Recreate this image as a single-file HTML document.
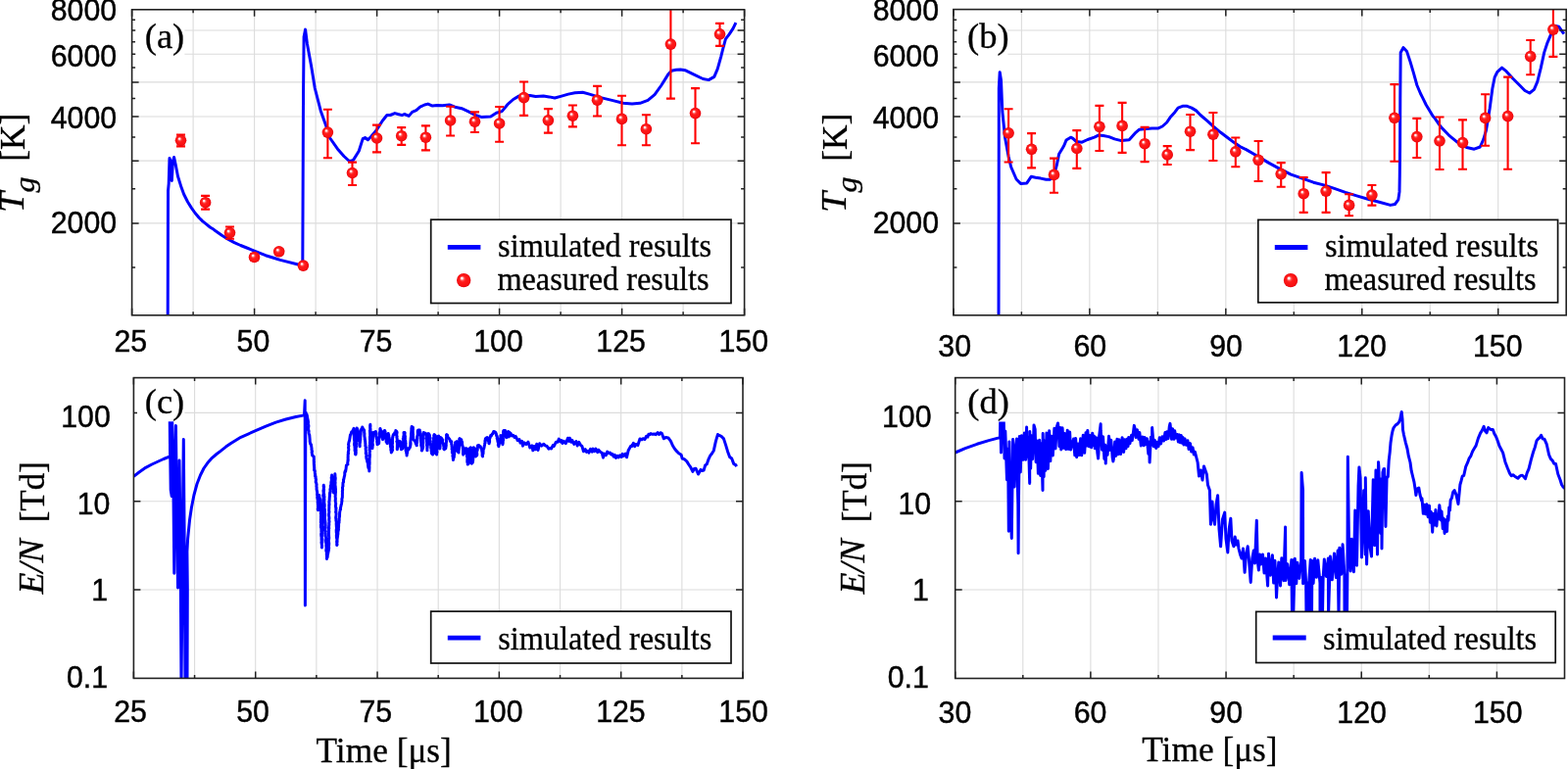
<!DOCTYPE html><html><head><meta charset="utf-8"><style>html,body{margin:0;padding:0;background:#fff;overflow:hidden}svg{display:block}</style></head><body><svg width="1600" height="785" viewBox="0 0 1600 785"><defs><radialGradient id="ball" cx="0.5" cy="0.5" r="0.5" fx="0.35" fy="0.33"><stop offset="0" stop-color="#ffffff"/><stop offset="0.1" stop-color="#ffffff"/><stop offset="0.3" stop-color="#ff5050"/><stop offset="0.45" stop-color="#ff1c1c"/><stop offset="0.85" stop-color="#f81010"/><stop offset="1" stop-color="#e00010"/></radialGradient><clipPath id="ca"><rect x="134.6" y="9.8" width="625" height="312"/></clipPath><clipPath id="cb"><rect x="972.9" y="9.6" width="625.3" height="312.2"/></clipPath><clipPath id="cc"><rect x="136.4" y="385.6" width="621.6" height="306.8"/></clipPath><clipPath id="cd"><rect x="974.7" y="385.6" width="621.8" height="306.9"/></clipPath></defs><path d="M259.6 9.8V321.8M384.6 9.8V321.8M509.6 9.8V321.8M634.6 9.8V321.8M197.1 9.8V321.8M322.1 9.8V321.8M447.1 9.8V321.8M572.1 9.8V321.8M697.1 9.8V321.8M134.6 227.89H759.6M134.6 164.17H759.6M134.6 118.95H759.6M134.6 83.88H759.6M134.6 55.22H759.6M134.6 30.99H759.6" stroke="#dcdcdc" stroke-width="1.1" fill="none"/><g clip-path="url(#ca)"><path d="M171.2 323L171.4 230L171.5 195L172.2 187.3L173 161.5L174.2 165L175.3 184.4L176.4 165L177.6 160.5L179.2 168L181.5 180L184.6 189.9L187.6 198.3L191.5 206L195.3 212.1L199.1 217.5L202.9 222L206.8 225.9L210.6 228.9L214.4 232L218.2 234.3L220 235.8L226.4 240.3L232.7 244.1L239.1 247.6L245.5 250.5L251.8 253L258.2 255.6L264.6 258.1L271 260.7L280 263.5L285.9 265.4L304.2 270L308.8 270.8L309.5 100L310.1 37.5L311.6 30.1L313.4 44.4L317.6 67.3L321.3 90L327.2 112.9L332.9 129L336.4 140.5L344.4 151.9L351 159.5L355.9 164L358.5 164.2L360.5 163.4L366.2 154.2L370.2 141.6L372.5 140.5L375.4 142.8L378.8 139.3L384.5 132.4L390.3 123.3L394.9 117.5L398.3 117.5L402.9 115.6L406 116.5L410.3 117.6L412.6 116.5L417.2 118.4L420.6 114.4L424.7 112.7L428.7 109.2L433.3 107L436.7 106.1L441.3 108.1L445.9 107.5L451.6 107.8L458.5 107L464.2 109.2L471.1 110.7L478 113.8L484.9 117.3L491.7 119.6L500.7 118.9L506.5 115.3L512.2 113.6L517.9 106.7L523.7 101.5L529.4 98.1L535.1 97.5L540.9 97.5L546.6 98.4L554.6 98.1L560.4 98.9L566.1 100L573 98.1L579.9 96.1L586.7 94.7L594.6 94.2L601.5 96.1L612.9 99.6L624.4 102.4L635.9 105.3L645 106.1L653.1 105.3L661.1 102.4L668 96.7L674.9 87L681.7 76.1L685.2 72.3L690 71.2L694.4 70.9L699 71.7L708.2 76.1L717.3 80.5L723.1 81.6L728.8 78.4L732.2 70.4L735.7 57.8L737.8 49.5L740.4 39.9L744.2 34.8L748 29.1L750.9 23.1" stroke="#0000ff" stroke-width="3" fill="none" stroke-linejoin="round" stroke-linecap="butt"/><path d="M184.5 137.6V149.4M180 137.6h9M180 149.4h9" stroke="#ff0000" stroke-width="2.1" fill="none"/><path d="M209.6 199.9V213.6M205.1 199.9h9M205.1 213.6h9" stroke="#ff0000" stroke-width="2.1" fill="none"/><path d="M234.5 231.5V243.7M230 231.5h9M230 243.7h9" stroke="#ff0000" stroke-width="2.1" fill="none"/><path d="M259.5 259.5V265.5M255 259.5h9M255 265.5h9" stroke="#ff0000" stroke-width="2.1" fill="none"/><path d="M284.7 254V259.6M280.2 254h9M280.2 259.6h9" stroke="#ff0000" stroke-width="2.1" fill="none"/><path d="M309.4 268.5V273.7M304.9 268.5h9M304.9 273.7h9" stroke="#ff0000" stroke-width="2.1" fill="none"/><path d="M334.4 111.8V161.3M329.9 111.8h9M329.9 161.3h9" stroke="#ff0000" stroke-width="2.1" fill="none"/><path d="M359.5 165.6V189M355 165.6h9M355 189h9" stroke="#ff0000" stroke-width="2.1" fill="none"/><path d="M384.5 127.6V155.4M380 127.6h9M380 155.4h9" stroke="#ff0000" stroke-width="2.1" fill="none"/><path d="M409.7 130.1V147.9M405.2 130.1h9M405.2 147.9h9" stroke="#ff0000" stroke-width="2.1" fill="none"/><path d="M434.4 128.4V153.4M429.9 128.4h9M429.9 153.4h9" stroke="#ff0000" stroke-width="2.1" fill="none"/><path d="M459.6 108.7V138.5M455.1 108.7h9M455.1 138.5h9" stroke="#ff0000" stroke-width="2.1" fill="none"/><path d="M484.5 114.4V135M480 114.4h9M480 135h9" stroke="#ff0000" stroke-width="2.1" fill="none"/><path d="M509.6 109V144.8M505.1 109h9M505.1 144.8h9" stroke="#ff0000" stroke-width="2.1" fill="none"/><path d="M534.6 83.5V117.9M530.1 83.5h9M530.1 117.9h9" stroke="#ff0000" stroke-width="2.1" fill="none"/><path d="M559.4 111.1V135.6M554.9 111.1h9M554.9 135.6h9" stroke="#ff0000" stroke-width="2.1" fill="none"/><path d="M584.4 107.5V129.4M579.9 107.5h9M579.9 129.4h9" stroke="#ff0000" stroke-width="2.1" fill="none"/><path d="M609.5 87.9V118.5M605 87.9h9M605 118.5h9" stroke="#ff0000" stroke-width="2.1" fill="none"/><path d="M634.5 97.8V148.3M630 97.8h9M630 148.3h9" stroke="#ff0000" stroke-width="2.1" fill="none"/><path d="M659.4 117.3V148.3M654.9 117.3h9M654.9 148.3h9" stroke="#ff0000" stroke-width="2.1" fill="none"/><path d="M684.4 5V100.6M679.9 5h9M679.9 100.6h9" stroke="#ff0000" stroke-width="2.1" fill="none"/><path d="M709.5 90.1V146.3M705 90.1h9M705 146.3h9" stroke="#ff0000" stroke-width="2.1" fill="none"/><path d="M734.5 23.9V46.9M730 23.9h9M730 46.9h9" stroke="#ff0000" stroke-width="2.1" fill="none"/><circle cx="184.5" cy="143.3" r="5.8" fill="url(#ball)"/><circle cx="209.6" cy="206.7" r="5.8" fill="url(#ball)"/><circle cx="234.5" cy="237.6" r="5.8" fill="url(#ball)"/><circle cx="259.5" cy="262.5" r="5.8" fill="url(#ball)"/><circle cx="284.7" cy="256.8" r="5.8" fill="url(#ball)"/><circle cx="309.4" cy="271.1" r="5.8" fill="url(#ball)"/><circle cx="334.4" cy="135.1" r="5.8" fill="url(#ball)"/><circle cx="359.5" cy="176.5" r="5.8" fill="url(#ball)"/><circle cx="384.5" cy="141" r="5.8" fill="url(#ball)"/><circle cx="409.7" cy="138.7" r="5.8" fill="url(#ball)"/><circle cx="434.4" cy="140.2" r="5.8" fill="url(#ball)"/><circle cx="459.6" cy="123" r="5.8" fill="url(#ball)"/><circle cx="484.5" cy="124.2" r="5.8" fill="url(#ball)"/><circle cx="509.6" cy="126" r="5.8" fill="url(#ball)"/><circle cx="534.6" cy="99.6" r="5.8" fill="url(#ball)"/><circle cx="559.4" cy="122.8" r="5.8" fill="url(#ball)"/><circle cx="584.4" cy="118.2" r="5.8" fill="url(#ball)"/><circle cx="609.5" cy="102.2" r="5.8" fill="url(#ball)"/><circle cx="634.5" cy="121.4" r="5.8" fill="url(#ball)"/><circle cx="659.4" cy="131.7" r="5.8" fill="url(#ball)"/><circle cx="684.4" cy="45.1" r="5.8" fill="url(#ball)"/><circle cx="709.5" cy="115.6" r="5.8" fill="url(#ball)"/><circle cx="734.5" cy="34.8" r="5.8" fill="url(#ball)"/></g><path d="M134.6 321.8v-7M134.6 9.8v7M259.6 321.8v-7M259.6 9.8v7M384.6 321.8v-7M384.6 9.8v7M509.6 321.8v-7M509.6 9.8v7M634.6 321.8v-7M634.6 9.8v7M759.6 321.8v-7M759.6 9.8v7M197.1 321.8v-3.5M197.1 9.8v3.5M322.1 321.8v-3.5M322.1 9.8v3.5M447.1 321.8v-3.5M447.1 9.8v3.5M572.1 321.8v-3.5M572.1 9.8v3.5M697.1 321.8v-3.5M697.1 9.8v3.5M134.6 227.89h7M759.6 227.89h-7M134.6 164.17h7M759.6 164.17h-7M134.6 118.95h7M759.6 118.95h-7M134.6 83.88h7M759.6 83.88h-7M134.6 55.22h7M759.6 55.22h-7M134.6 30.99h7M759.6 30.99h-7M134.6 273.11h3.5M759.6 273.11h-3.5M134.6 192.82h3.5M759.6 192.82h-3.5M134.6 139.94h3.5M759.6 139.94h-3.5M134.6 100.44h3.5M759.6 100.44h-3.5M134.6 68.9h3.5M759.6 68.9h-3.5M134.6 42.64h3.5M759.6 42.64h-3.5M134.6 20.15h3.5M759.6 20.15h-3.5" stroke="#222" stroke-width="1.5" fill="none"/><rect x="134.6" y="9.8" width="625" height="312" stroke="#222" stroke-width="1.6" fill="none"/><rect x="138.2" y="13.4" width="50.2" height="44.1" fill="#fff"/><path d="M1111.86 9.6V321.8M1250.81 9.6V321.8M1389.77 9.6V321.8M1528.72 9.6V321.8M1042.38 9.6V321.8M1181.33 9.6V321.8M1320.29 9.6V321.8M1459.24 9.6V321.8M972.9 227.89H1598.2M972.9 164.17H1598.2M972.9 118.95H1598.2M972.9 83.88H1598.2M972.9 55.22H1598.2M972.9 30.99H1598.2" stroke="#dcdcdc" stroke-width="1.1" fill="none"/><g clip-path="url(#cb)"><path d="M1019 323L1019.2 200L1019.3 90L1020.2 73.7L1021.5 82L1022.8 113.5L1025.5 140.2L1029.1 159.8L1031.7 170.5L1037.1 183L1041.5 187.4L1047.8 186.9L1052.2 180.3L1056.7 181.2L1062 182.1L1067.4 183.3L1071.5 183.2L1074.5 180L1076.1 176.7L1078.3 168.7L1080.6 157.2L1084.1 151.5L1085.7 148.8L1088 143.1L1092.6 140.2L1094.9 141.4L1098.3 144.6L1104.1 145.2L1109.8 142.5L1116.7 140.2L1121.3 137.9L1125.9 138.5L1131.6 139.6L1137.3 141.9L1144.2 143.6L1152.2 142.8L1158 136.2L1162.6 132.2L1169.4 131.6L1175.7 130.9L1181.5 131.1L1186.1 129L1190.6 125L1194.1 119.8L1198.7 114.7L1202.1 110.1L1206.7 108.3L1211.3 108.3L1215.9 110.1L1220.5 112.9L1225 117.5L1231.9 123.3L1238.8 129.6L1245.7 135.3L1252.6 140.5L1259.4 145.6L1265.2 149.6L1271.5 152.6L1282.9 159.2L1294.4 166.1L1305.9 172.4L1317.3 178.2L1328.8 182.2L1340.3 186.2L1351.7 189.1L1361.5 192.4L1372.9 196.4L1384.4 199.9L1395.9 203.3L1407.3 206.2L1418.8 209.4L1423.4 208.5L1426.8 203.9L1428 195.9L1428.3 178.7L1428.6 150L1428.8 100L1429.2 53.8L1431.9 48.6L1435.6 52.6L1439 62.9L1442.4 74.4L1445.9 87L1449.5 95.5L1451.6 99.6L1455.2 107L1457.3 110.5L1462.1 118.5L1464.2 120.8L1470.1 129.4L1478.2 137.8L1487.3 145.3L1496.5 150.5L1504.3 152.2L1510.3 150L1513.7 142.4L1516.4 133.4L1520.2 110.4L1522.9 90.3L1525.2 78.8L1527.9 73.3L1532.6 69.1L1537.2 72.9L1543.6 80L1551.6 88L1556 92.5L1560.8 95L1565.4 91.4L1568.8 83.4L1572.2 69.6L1575.7 53.6L1579.1 43.3L1582.6 35.2L1587.2 26.6L1590.6 27.2L1594.6 32.9L1596 34.5" stroke="#0000ff" stroke-width="3" fill="none" stroke-linejoin="round" stroke-linecap="butt"/><path d="M1029.1 111.2V165.5M1024.6 111.2h9M1024.6 165.5h9" stroke="#ff0000" stroke-width="2.1" fill="none"/><path d="M1052.6 136.1V171.4M1048.1 136.1h9M1048.1 171.4h9" stroke="#ff0000" stroke-width="2.1" fill="none"/><path d="M1075.5 161.6V196.8M1071 161.6h9M1071 196.8h9" stroke="#ff0000" stroke-width="2.1" fill="none"/><path d="M1098.8 133.1V171.9M1094.3 133.1h9M1094.3 171.9h9" stroke="#ff0000" stroke-width="2.1" fill="none"/><path d="M1121.9 107.9V154M1117.4 107.9h9M1117.4 154h9" stroke="#ff0000" stroke-width="2.1" fill="none"/><path d="M1145.1 104.9V155.9M1140.6 104.9h9M1140.6 155.9h9" stroke="#ff0000" stroke-width="2.1" fill="none"/><path d="M1168.1 129.9V165.1M1163.6 129.9h9M1163.6 165.1h9" stroke="#ff0000" stroke-width="2.1" fill="none"/><path d="M1191.2 149.1V168M1186.7 149.1h9M1186.7 168h9" stroke="#ff0000" stroke-width="2.1" fill="none"/><path d="M1214.5 117V153.1M1210 117h9M1210 153.1h9" stroke="#ff0000" stroke-width="2.1" fill="none"/><path d="M1237.9 115V164M1233.4 115h9M1233.4 164h9" stroke="#ff0000" stroke-width="2.1" fill="none"/><path d="M1260.8 140.5V170.3M1256.3 140.5h9M1256.3 170.3h9" stroke="#ff0000" stroke-width="2.1" fill="none"/><path d="M1284.1 144V185M1279.6 144h9M1279.6 185h9" stroke="#ff0000" stroke-width="2.1" fill="none"/><path d="M1307.2 166.1V190.8M1302.7 166.1h9M1302.7 190.8h9" stroke="#ff0000" stroke-width="2.1" fill="none"/><path d="M1330.2 181V216.9M1325.7 181h9M1325.7 216.9h9" stroke="#ff0000" stroke-width="2.1" fill="none"/><path d="M1353.1 176.1V216.9M1348.6 176.1h9M1348.6 216.9h9" stroke="#ff0000" stroke-width="2.1" fill="none"/><path d="M1376.6 198.2V220.2M1372.1 198.2h9M1372.1 220.2h9" stroke="#ff0000" stroke-width="2.1" fill="none"/><path d="M1399.9 189V209.6M1395.4 189h9M1395.4 209.6h9" stroke="#ff0000" stroke-width="2.1" fill="none"/><path d="M1422.9 86.1V164.7M1418.4 86.1h9M1418.4 164.7h9" stroke="#ff0000" stroke-width="2.1" fill="none"/><path d="M1445.8 120.9V161M1441.3 120.9h9M1441.3 161h9" stroke="#ff0000" stroke-width="2.1" fill="none"/><path d="M1469 119.5V173M1464.5 119.5h9M1464.5 173h9" stroke="#ff0000" stroke-width="2.1" fill="none"/><path d="M1492.5 122.4V172.8M1488 122.4h9M1488 172.8h9" stroke="#ff0000" stroke-width="2.1" fill="none"/><path d="M1515.6 96.2V148.7M1511.1 96.2h9M1511.1 148.7h9" stroke="#ff0000" stroke-width="2.1" fill="none"/><path d="M1538.6 78.6V172.8M1534.1 78.6h9M1534.1 172.8h9" stroke="#ff0000" stroke-width="2.1" fill="none"/><path d="M1561.7 41V76.2M1557.2 41h9M1557.2 76.2h9" stroke="#ff0000" stroke-width="2.1" fill="none"/><path d="M1584.9 5V57.9M1580.4 5h9M1580.4 57.9h9" stroke="#ff0000" stroke-width="2.1" fill="none"/><circle cx="1029.1" cy="135.8" r="5.8" fill="url(#ball)"/><circle cx="1052.6" cy="152.3" r="5.8" fill="url(#ball)"/><circle cx="1075.5" cy="178.4" r="5.8" fill="url(#ball)"/><circle cx="1098.8" cy="151.5" r="5.8" fill="url(#ball)"/><circle cx="1121.9" cy="129.3" r="5.8" fill="url(#ball)"/><circle cx="1145.1" cy="128.4" r="5.8" fill="url(#ball)"/><circle cx="1168.1" cy="146.7" r="5.8" fill="url(#ball)"/><circle cx="1191.2" cy="157.9" r="5.8" fill="url(#ball)"/><circle cx="1214.5" cy="134.2" r="5.8" fill="url(#ball)"/><circle cx="1237.9" cy="137.2" r="5.8" fill="url(#ball)"/><circle cx="1260.8" cy="154.8" r="5.8" fill="url(#ball)"/><circle cx="1284.1" cy="163.3" r="5.8" fill="url(#ball)"/><circle cx="1307.2" cy="177.6" r="5.8" fill="url(#ball)"/><circle cx="1330.2" cy="197.7" r="5.8" fill="url(#ball)"/><circle cx="1353.1" cy="195.1" r="5.8" fill="url(#ball)"/><circle cx="1376.6" cy="209.4" r="5.8" fill="url(#ball)"/><circle cx="1399.9" cy="199.1" r="5.8" fill="url(#ball)"/><circle cx="1422.9" cy="120.3" r="5.8" fill="url(#ball)"/><circle cx="1445.8" cy="139.6" r="5.8" fill="url(#ball)"/><circle cx="1469" cy="143.8" r="5.8" fill="url(#ball)"/><circle cx="1492.5" cy="145.6" r="5.8" fill="url(#ball)"/><circle cx="1515.6" cy="120.4" r="5.8" fill="url(#ball)"/><circle cx="1538.6" cy="118.6" r="5.8" fill="url(#ball)"/><circle cx="1561.7" cy="57.6" r="5.8" fill="url(#ball)"/><circle cx="1584.9" cy="30.1" r="5.8" fill="url(#ball)"/></g><path d="M972.9 321.8v-7M972.9 9.6v7M1111.86 321.8v-7M1111.86 9.6v7M1250.81 321.8v-7M1250.81 9.6v7M1389.77 321.8v-7M1389.77 9.6v7M1528.72 321.8v-7M1528.72 9.6v7M1042.38 321.8v-3.5M1042.38 9.6v3.5M1181.33 321.8v-3.5M1181.33 9.6v3.5M1320.29 321.8v-3.5M1320.29 9.6v3.5M1459.24 321.8v-3.5M1459.24 9.6v3.5M972.9 227.89h7M1598.2 227.89h-7M972.9 164.17h7M1598.2 164.17h-7M972.9 118.95h7M1598.2 118.95h-7M972.9 83.88h7M1598.2 83.88h-7M972.9 55.22h7M1598.2 55.22h-7M972.9 30.99h7M1598.2 30.99h-7M972.9 273.11h3.5M1598.2 273.11h-3.5M972.9 192.82h3.5M1598.2 192.82h-3.5M972.9 139.94h3.5M1598.2 139.94h-3.5M972.9 100.44h3.5M1598.2 100.44h-3.5M972.9 68.9h3.5M1598.2 68.9h-3.5M972.9 42.64h3.5M1598.2 42.64h-3.5M972.9 20.15h3.5M1598.2 20.15h-3.5" stroke="#222" stroke-width="1.5" fill="none"/><rect x="972.9" y="9.6" width="625.3" height="312.2" stroke="#222" stroke-width="1.6" fill="none"/><rect x="976.5" y="13.2" width="51.9" height="44.3" fill="#fff"/><path d="M260.72 385.6V692.4M385.04 385.6V692.4M509.36 385.6V692.4M633.68 385.6V692.4M198.56 385.6V692.4M322.88 385.6V692.4M447.2 385.6V692.4M571.52 385.6V692.4M695.84 385.6V692.4M136.4 602H758M136.4 511.7H758M136.4 421.4H758" stroke="#dcdcdc" stroke-width="1.1" fill="none"/><g clip-path="url(#cc)"><path d="M136.4 486.2L142 482L148.7 477.3L155 474L161.5 471L167 468.5L173.6 465.9L173.2 426L174.2 500L175.2 506.6L175.6 426L176.6 470L177.1 515L177.8 585.2L178.6 480L179.4 434.6L180.5 520L181.5 600L182.5 560L183 470L184 540L185 700L186 600L186.5 520L187.3 448.6L188.2 560L189 700L190 650L191 700L191.3 600L190.9 562.8L191.6 550L193.5 531L195.4 518.2L197.9 505.5L201 494L204.5 485L208 478L212 472.3L216.5 467.3L221 463.5L225.5 460.1L230.5 456.1L235.7 452.5L245.8 446.3L260.8 439.7L271.3 435.1L281.5 431.1L291.7 428L301.9 425.5L310.5 423.9L311.2 408.7L311.4 618.1L311.8 430L311.65 428.97L311.98 426.98L311.78 426.25L312.18 424.1L312.05 421.95L312.1 421.1L312.2 422.23L312.95 422.95L313.48 424.78L313.54 425.76L314.1 428.3L314.51 430.23L314.55 431.29L314.15 431.96L314.54 432.8L314.93 434.76L314.56 437.2L314.65 438.82L314.96 439.27L315.1 440.5L315.16 441.92L315.23 442.3L315.79 444.24L315.9 445.63L316.17 448.73L316.2 449.87L316.2 450.7L316.62 452.53L316.72 453.19L317.52 453.81L317.7 455.8L318.1 458.04L317.93 458.11L318.1 459.47L318.57 460.78L318.13 461.4L318.69 464.87L318.7 465L320.2 466L320.25 467.31L320.34 469.26L320.2 470.26L320.46 471.63L320.29 471.87L320.44 475.02L320.5 475.57L320.53 475.71L320.7 478L320.61 480.09L321.21 480.37L321.33 482.43L321.63 484.45L321.51 485.86L322.01 486.24L322.14 487.33L322.01 488.08L322.48 489.22L322.17 492.1L322.6 492.7L322.91 494.08L323.09 494.47L322.89 496.46L323.13 497.6L323.06 499.42L323.71 502.39L323.76 502.61L323.61 505.18L323.9 505.5L323.98 507.44L323.74 507.59L324.29 510.38L324.38 511.31L324.17 512.65L324.49 513.38L324.37 514.7L324.57 515.45L324.58 519.11L324.25 519.63L324.6 520.8L324.8 520.25L324.87 517.44L324.87 517.73L325.28 514.36L324.9 512.87L324.97 512.33L325.15 511.95L325.57 508.78L325.61 507.86L325.69 506.22L325.8 505.5L325.77 506.1L326.07 508.72L326.34 508.48L326.61 511.83L326.82 512.98L326.53 513.56L327 515L326.78 516.97L326.89 518.17L326.98 519.47L327.06 519.23L327.15 521.21L327.49 522.51L327.3 524.45L327.61 524.7L327.44 527.02L327.56 529.45L327.35 530.15L327.52 531.15L327.29 533.09L327.88 533.32L327.53 536.18L327.44 535.32L327.47 538.42L327.92 538.88L327.88 539.18L327.94 541.53L327.9 542.73L327.87 543.67L327.71 545.51L327.87 547.49L328.25 548.87L328.08 549.03L328.08 550.97L328.27 553.44L327.98 553.62L328.27 555.52L328.55 557L328.43 558.29L328.4 559L328.54 558.56L328.6 556.84L328.36 556.1L328.49 554.08L328.79 553.61L328.93 550.02L328.56 549.45L328.64 547.75L328.78 546.29L328.67 547.06L328.97 544.61L328.63 544.49L329.03 541.39L328.84 541.14L329.09 538.93L329.29 537.77L328.91 537.73L328.89 536.03L328.96 534.54L329.04 532.71L329.48 531.62L329.22 530.68L329.16 528.32L329.26 527.25L329.18 527.61L329.13 525.95L329.71 524.39L329.2 522.6L329.25 521.56L329.68 519.38L329.31 518.81L329.4 516.94L329.65 517.05L329.64 513.92L329.93 514.27L329.81 511.12L329.65 510.67L329.9 508.94L330.09 509.12L330.21 507.92L329.7 505.9L329.78 505.36L330.22 503.72L329.92 500.74L330.33 500.76L330.26 499.13L330.4 497.51L330.12 496.25L330.3 495.3L330.23 496.93L330.63 496.91L330.19 499.29L330.6 499.84L330.4 500.85L330.31 503.22L330.75 504.92L330.48 504.93L330.99 507.29L330.73 508.98L330.97 509.9L330.62 511.95L330.75 511.39L330.89 513.89L331.1 514.35L331.2 516.44L330.92 518.62L331.35 520.08L331.32 519.74L331.43 522.71L331.33 524.05L331.64 524.13L331.67 526.76L331.63 525.86L331.41 528.63L331.62 530.29L331.6 531L331.75 531.5L331.99 533.71L332.02 534.24L332.15 536.38L332.08 538.14L332.21 538.55L331.79 539.97L331.91 541.6L332.36 542.49L332.01 543L332.25 545.64L332.08 547.16L332.25 547.13L332.74 549.44L332.79 550.73L332.39 551.39L332.63 553.66L332.9 555.24L332.89 555.36L332.82 556.97L332.92 558.02L333.02 559.79L332.78 561.98L333.17 563.25L333.33 564.39L333.54 564.85L333.25 565.27L333.47 567.97L333.48 570.28L333.5 570.4L333.59 568.47L334.18 568.61L334.3 565.52L334.51 566.1L334.86 563.95L335.06 563.08L335.4 561.5L335.47 560.66L335.65 559.49L335.37 556.98L335.63 556.97L335.74 554.24L335.7 554.59L335.26 551.88L335.61 550.19L335.74 549.16L335.67 547.93L335.4 546.41L335.59 546.32L335.44 544.94L335.52 543.55L335.56 541.15L335.44 539.51L335.79 539.06L335.46 538.87L335.79 535.5L335.85 535.57L335.7 534.04L336.02 532.42L335.84 531.74L335.7 529.74L335.95 529.13L335.78 527.53L335.66 526.88L335.55 525.22L335.83 522.9L335.93 522.46L335.64 520.93L335.7 520.37L335.82 517.93L335.77 515.95L335.76 514.89L336.04 515.25L335.82 512.18L336 511.8L336.15 509.54L336.2 509.76L336.21 508.27L336.54 505.46L336.5 505.36L336.54 503.08L336.96 503.22L337.05 501.51L336.88 499.31L337.19 499.44L337.34 497.8L337.28 495.78L337.92 495.1L337.87 492.35L338.21 490.77L338.36 491.1L338.34 489.18L338.14 487.39L338.57 486.81L338.6 485.1L338.68 487.19L338.62 487.33L338.79 488.79L339.36 491.19L339.12 491.49L339.24 493.7L339.59 494.04L339.69 496.93L339.87 497.88L340.14 498.73L340.24 499.83L340.17 501.52L340.5 502.9L340.48 501.13L340.5 501.16L340.73 498.09L340.59 496.76L341.19 495.69L341.16 494.07L341.24 493.23L341.38 492.05L341.26 490.09L341.49 490.05L341.64 487.85L341.51 487.47L341.91 484.31L341.8 483.8L341.94 485.76L341.97 487.54L342.13 487.12L342.23 488.63L341.89 491.5L341.8 491.42L342.11 492.43L341.93 494.99L342.17 496.19L342.31 497.8L342.4 499L342.49 499.53L342.35 500.88L342.55 502.53L342.26 503.86L342.21 503.89L342.3 505.22L342.1 506.42L342.41 509.34L342.2 510.35L342.27 511.36L342.41 512.51L342.69 513.75L342.54 515.82L342.4 516.22L342.79 518.69L342.99 518.62L342.81 520.06L342.89 522.65L342.58 522.76L343.1 524.09L342.95 526.52L342.77 527.75L342.64 527.99L342.77 529.32L343 531L342.86 531.2L343.26 532.89L343.15 535.14L343.36 537.18L343.26 536.89L343.38 538.06L343.52 539.9L343.15 541.01L343.27 543.73L343.58 544.96L343.54 545.09L343.33 546.57L343.44 549.28L343.81 548.72L343.83 552.06L343.57 552.85L343.8 552.97L343.73 556.22L343.7 556.4L344.06 555.98L343.72 554.09L344.09 553.15L344.03 550.87L344.14 550.07L344.63 546.81L344.52 545.66L344.85 545.42L344.9 543.7L344.78 543.37L345.47 540.74L345.38 539.14L345.54 537.81L345.59 537.24L345.58 534.75L346.07 533.16L345.8 533.4L346.2 531L346.14 529.36L346.38 527.58L346.54 526.82L346.55 525.39L346.65 522.88L346.89 521.84L347.12 520.54L347.56 520L347.5 518.2L347.74 517.57L348.13 515.2L348.35 514.95L348.56 513.69L348.8 511.8L348.97 511.46L348.83 509.48L349.34 507.77L349.39 505.37L349.36 504.42L349.46 503.43L349.42 501.65L349.34 501.76L349.66 499.83L349.43 497.66L350.02 496.08L349.85 495.9L349.92 494.19L350 492.7L350.58 491.98L350.44 489.73L350.85 488.94L351.3 486.53L351.62 485.53L351.8 484.3L351.74 482.49L352.18 480.94L352.59 481.54L352.97 479.35L353.16 477.71L353.22 477.36L353.4 475.1L354.9 474.1L354.69 472.45L354.94 471.08L355.03 469.08L355.24 469.93L355.03 466.76L355.15 466.91L355.15 465.53L355.17 463.79L355.56 462.66L355.24 462.02L355.76 459.56L355.82 458.53L355.47 456.72L355.92 455.57L355.51 453.53L355.65 453.22L355.9 451.7L356.34 450.21L356.54 450.08L356.86 448.01L357.12 446.27L357.46 443.94L358 443.5L358.65 441.08L359.5 440.5L360.18 439.32L361 437.4L361.09 439.43L361.1 439.05L361.31 441.14L361.39 443.84L361.31 443.42L361.27 445.34L361.3 445.71L361.41 448.36L361.72 449.94L361.82 451.36L361.59 452.31L361.44 453.99L361.89 454.04L361.81 455.38L362.06 457.08L362.11 459.59L362 459.9L362.5 460.95L362.57 463.64L363 463.9L363.3 461.81L363.03 461.89L363.32 459.33L363.19 459.61L363.03 456.61L363.43 456.78L363.65 454.38L363.61 454.23L363.39 451.1L363.41 451.08L363.39 449.16L363.92 446.98L363.79 446.42L364.05 445.03L363.82 444.62L364.03 441.45L364.12 440.71L364.27 440.71L364.04 438.05L364.1 436.9L364.44 437.56L364.92 438.5L365.6 440.5L365.87 440.81L365.93 443.52L366.15 444.83L366.4 445.54L366.04 447.65L366.28 450.02L366.81 450.69L366.89 451.01L366.82 452.74L366.87 454.11L367.1 455.8L367.18 454.87L367 453.29L367.15 453.02L367.49 450.81L367.44 449.79L367.77 448.98L367.78 446.15L367.9 444.32L368.06 443.64L368.14 441.92L368.1 441.5L368.56 439.31L368.62 438.13L369.51 437.03L369.7 435.9L370.46 437.85L371.2 438.4L371.65 439.19L371.65 441.81L371.88 442.13L371.85 444.55L371.88 445.2L372.28 447.44L372.21 448.36L372.36 448.51L372.7 450.7L372.78 452.45L372.97 454.56L372.77 454.95L373.05 455.68L373.41 456.8L373.1 457.94L373.42 460.81L373.26 462.84L373.6 462.5L373.87 465.46L373.7 466L373.99 468.4L374.28 468.68L374.85 471.67L375.3 472.1L375.43 473.31L375.62 475.83L375.86 477.38L376.2 478.15L376.78 478.96L376.8 481L376.84 480L376.9 478.13L376.97 476.58L376.7 474.52L377 474.55L377.15 472.23L377.1 471.61L377.04 471.2L377.06 468.92L377.17 466.9L377.33 466.47L376.86 465.06L377.43 464.92L377.14 461.89L377.48 460.61L376.96 459.19L377.25 458.89L377.04 456.75L377.46 455.45L377.16 455.01L377.35 453.64L377.4 452.6L377.45 451.67L377.65 449.73L377.49 448.14L377.45 445.53L377.78 445.96L377.74 444.76L377.64 443.76L377.62 442.4L377.41 439.63L377.73 439.36L377.73 437.97L377.67 436.37L377.95 434.87L377.8 433.3L377.62 435.04L377.72 435.56L377.9 438.03L378.05 439.29L378.1 439.43L378.58 442.52L378.32 443.14L378.63 444.53L378.8 445.6L378.67 445.8L378.79 449.25L379.16 449.94L379.07 451.47L379.65 451.65L379.7 454.57L379.95 455.25L379.86 456.07L379.9 457.8L380.15 455.99L380.14 455.39L380.44 454.41L379.99 451.59L380.23 450.76L380.53 449.07L380.52 448.18L380.45 447.28L380.61 446.73L380.51 445.17L380.9 442.76L380.9 441.5L381.9 441.35L383.4 440.5L383.74 441.46L383.85 443.22L383.63 445.32L383.93 445.73L384.36 448L384.57 448.1L384.73 448.91L384.71 450.9L385.06 452.91L385 453.7L386.5 452.7L386.73 452.06L386.68 449.78L386.67 448.17L386.87 447.69L386.96 446.74L387.38 444.23L387.23 442.84L387.63 440.72L388.01 439.85L387.82 438.28L388 437.4L390.58 448.64L390.98 446.55L390.55 447.87L390.77 444.33L391.18 443.87L391.45 442.47L391.62 441.64L391.53 442.27L391.6 439.97L392.62 439.46L392.86 441.67L393 440.24L393.23 442.77L393.02 442.67L393.47 444.79L393.65 446.35L393.79 446.79L393.64 447.62L394.06 448.95L394.11 450.94L394.44 451.46L395.14 452.12L395.17 452.72L395.06 452.61L395.47 449.8L395.2 449.75L395.3 449.83L395.68 447.67L395.73 447.05L396.13 445.04L395.91 444.79L395.96 443.81L396.19 442.52L396.47 443.36L396.8 444.64L396.7 446.97L397.12 446.41L397.4 448.82L397.72 448.64L398.11 449.69L397.89 449.55L398.31 450.78L398.22 452.29L398.2 453.34L398.24 453.46L398.56 456.6L398.75 455.96L398.89 456.56L398.84 459.75L399.26 459.74L399.34 460.87L399.25 461.89L399.77 461.11L400.27 459.85L400.6 459.52L400.32 458.45L400.46 456.38L400.58 456.67L400.51 455.99L400.19 453.74L400.6 452.27L400.36 452.24L400.55 450.03L400.35 450.97L400.58 447.57L400.53 446.93L400.96 445.71L400.77 445.58L401.41 443.43L402.3 443.54L402.67 441.7L402.97 442.16L403.71 441.42L403.83 439.46L404.85 440.48L404.6 441.16L405.12 441.22L404.76 443.51L404.89 445.26L405.12 445.48L404.87 445.85L404.91 446.4L405.18 447.68L405.34 450.07L404.87 450.67L405.23 450.42L405.18 451.4L405.38 452.35L405.33 456.11L405.48 455.03L405.33 455.79L405.24 458.83L405.36 458.83L405.74 456.38L405.67 457.06L405.74 456.43L406.36 454.64L406.23 454.39L406.52 451.46L406.57 450.3L406.89 450.17L408.42 450.68L408.75 451.72L408.79 453.61L409.09 452.87L408.87 455.8L409.21 455.46L409.28 455.94L409.11 456.56L409.44 458.83L410.97 457.81L410.96 456.05L411.11 457.09L410.95 454.92L411.44 454.01L411.3 453.47L411.06 452.95L411.53 451.54L411.67 448.53L411.28 447.74L411.61 448.85L411.91 446.35L411.81 446.25L411.7 445.88L412.13 444.18L412.16 443.37L411.99 441.5L413.01 441.5L413.17 442.02L413.02 442.81L412.96 445.75L413.18 444.25L413.26 445.49L413.41 447.15L413.32 448.57L413.54 449.25L413.85 450.14L413.76 452.76L414.08 452.37L413.61 455L413.96 453.96L414.03 455.77L413.92 456.06L414.14 456.8L414.1 460.22L414.67 458.77L414.58 461.72L414.71 460.68L414.72 462.58L415.18 464.16L415.05 464.95L415.17 464.3L415.07 463.43L415.67 462.37L415.54 460.27L415.48 458.68L415.71 458.7L416.07 457.81L417.08 458.83L417.76 457.02L418.09 457.17L418.61 455.77L418.77 453.41L419.02 453.97L418.72 451.99L419.03 452.91L418.9 450.39L419.11 448.75L419.09 449.81L419.26 448.52L419.16 447.63L419.55 444.81L419.47 445.07L419.57 443.83L419.45 442.67L419.6 442.34L419.68 441.83L419.89 438.7L419.86 437.4L420.13 436.15L420.13 435.87L420.14 435.39L421.16 436.41L421.37 436.38L421.36 439.04L421.14 438.43L421.27 440.9L421.25 440.13L421.4 443.39L421.28 444.78L421.54 443.61L421.34 445.22L421.61 445.69L421.67 447.62L421.93 448.64L422.69 449.66L423.71 450.68L423.95 451.54L424.45 453.27L424.9 452.98L425.24 454.76L425.12 454.74L425.11 451.66L425.19 452.61L425.54 451.86L425.66 449.2L425.61 449.29L425.55 448.47L425.73 445.32L425.76 445.75L425.71 445.7L426.24 443.57L426.3 443.05L426.15 440.55L426.46 441.66L426.26 439.46L427.25 438.89L428.3 438.96L428.21 440.39L428.85 440.85L428.68 442.58L429.15 442.45L429.02 444.88L429.32 445.58L429.11 447.49L429.35 448.55L429.51 447.7L429.32 448.58L429.54 451.4L429.93 452.06L429.71 453.18L430.04 453.36L429.72 454.67L429.88 454.9L430.05 455.6L430.43 457.2L430.5 459.5L430.34 459.85L430.55 459.95L431.36 457.81L431.61 456.87L431.71 455.71L431.26 453.78L431.5 454.74L431.87 451.65L431.65 450.61L431.64 450.26L431.81 448.68L432.02 447.92L432.23 447.57L432.01 447.34L432.03 444.9L431.96 443.99L432.09 444.2L432.22 443.1L432.38 441.5L433.39 442.52L434.28 442.34L435.43 444.56L435.35 445.28L435.75 445.76L435.36 446.66L435.42 449.93L435.86 448.9L435.37 450.64L435.72 450.61L435.66 453.47L435.44 454.35L435.88 455.56L435.8 455.67L435.85 455.78L435.88 457.08L435.8 457.56L435.94 459.85L435.8 457.59L436.09 457.08L436.16 456.8L436.02 454.73L436.3 455.25L436.42 453.76L436.41 451.39L436.31 452.54L436.41 449.57L436.5 450.59L436.36 447.55L436.66 448.66L436.66 445.89L436.94 444.45L436.72 444.84L437.11 444.55L436.96 442.52L437.62 442.89L438.49 444.56L438.52 444.52L438.58 447.35L439.12 446.98L438.69 449.31L439.34 450.48L439.12 451.36L439.44 452.38L439.39 454.11L439.51 453.74L439.79 454.01L439.7 454.62L439.78 457.68L439.96 457.88L440.24 457.68L440.1 459.81L440.3 461.39L440.68 462.74L440.53 462.91L441.55 463.93L441.65 463.43L441.73 463.25L441.84 461.13L441.79 459.63L442.09 458.48L442.25 458.45L442.36 457.37L442.2 455.4L441.95 455.21L442.46 454.36L442.55 451.42L442.58 451.08L442.48 451.71L442.56 449.57L442.43 447.75L442.6 446.82L442.86 445.33L442.68 444.42L443.14 445.88L443.08 443.54L444.1 444.56L444.28 445.62L443.93 447.4L443.96 446.43L444.22 449.65L444.13 450.68L444.17 451.98L444.44 452.72L444.62 453.6L444.17 453.78L444.41 455.38L444.25 455.99L444.31 455.91L444.44 458.66L444.53 458.43L444.36 459.46L444.49 460.23L444.47 461.13L444.61 462.91L445.63 463.93L445.56 463.4L445.82 462.25L446.05 461.34L445.63 459.58L445.92 459.52L445.98 456.67L446.01 457.23L446.25 455.62L445.96 453.45L446.2 454.44L446.02 452.78L446.36 451.87L446.2 449.54L446.13 449.11L446.71 448.41L446.83 448.53L446.64 446.43L446.65 445.58L447.67 445.07L447.79 447.08L447.74 446.23L448.16 448.62L447.93 449.04L447.85 450.57L448.35 451.44L448.38 453.17L448.24 453.95L448.71 455.23L448.32 456.14L448.69 457.52L448.69 457.81L448.9 457.95L449.16 454.96L448.95 453.48L449.35 452.63L449.1 453.04L449.2 450.78L449.34 449.9L449.42 450.26L449.4 448.49L449.69 447.71L449.7 446.6L450.72 447.62L451.16 449.74L451.51 448.72L451.48 449.61L451.74 451.7L452.08 452.43L452.39 453.69L452.58 453.44L452.68 455.53L453.03 455.68L452.81 458.34L453.27 458.83L454.8 457.81L454.77 456.61L454.89 457.13L455.09 455.69L455.3 454.74L455.13 452.13L455.25 452.8L455.54 450.62L455.63 450.39L455.18 449.01L455.71 446.34L455.53 447.01L455.68 445.67L455.5 443.89L455.82 443.54L456.55 444.14L456.83 445.83L457.35 446.6L457.98 447.38L458.88 448.64L459.65 450.69L460.41 450.68L460.74 450.79L460.66 453.42L461.03 453.82L461 455.16L461.15 456.88L461.46 458.17L461.07 458.42L461.43 458.83L461.46 459.29L461.39 462.12L461.97 462.12L461.83 462.29L462.19 464.91L461.84 465.46L462.44 465.66L462.17 467.01L462.27 467.39L462.45 469.54L462.73 467.7L462.96 467.2L463.26 466.86L463.48 464.09L463.47 463.93L463.73 463.68L463.51 460.49L463.48 461.63L464.09 458.64L463.74 458.56L463.72 458.21L464.28 457.75L463.95 456.92L464.4 453.79L464.53 454.94L464.63 453.42L464.49 451.7L466.01 450.68L466.31 451.79L465.92 453.22L466.32 452.75L466.2 455.83L466.77 454.52L466.34 457.35L466.6 458.85L466.81 459.43L466.66 460.63L467.03 460.87L468.05 461.89L467.95 460.67L468.19 459.36L468.12 458.69L468.08 456.85L468.2 457.79L468.38 457.13L468.8 453.82L468.85 455.1L468.67 452.67L468.89 451.67L468.71 451.33L468.76 449.33L468.71 448.15L469.07 447.62L470.09 448.64L470.79 448.64L470.93 450.39L471.62 451.7L471.58 451.33L471.52 452.9L472.05 455.53L472.14 456.32L472.34 456.12L472.26 457.67L472.49 458.67L472.43 460.62L472.66 461.61L472.37 462.31L472.73 464.14L472.64 463.93L473.66 462.91L473.71 462.54L474.2 459.91L474.04 460.03L474.53 458.35L474.68 457.81L476.21 457.81L476.34 457.85L476.38 459.95L476.6 461.49L476.21 462.05L476.3 462.98L476.7 464.5L476.36 465.04L476.52 465.99L476.78 466.95L477 467.44L476.89 468.32L476.79 470.42L476.83 471.9L477.02 471L477.34 471.76L477.23 474.12L478.25 473.1L478.19 472.52L478.09 471.63L478.49 471.38L478.41 469.95L478.87 468L478.4 466.54L478.91 464.57L478.87 465.01L479 463.57L479.19 461.83L478.94 461.35L479.1 460.08L479.06 459.71L479.45 457.51L479.27 457.81L480.29 456.79L480.22 456.83L480.54 459.59L480.19 460.64L480.77 460.77L480.66 462.71L480.92 462.14L480.86 462.75L480.71 466.1L480.94 466.06L480.89 466.87L480.7 468.18L481.31 467.96L480.83 470.4L481.37 470.87L480.99 472.49L481.3 473.1L482.32 472.08L482.49 470.32L482.65 470.17L482.7 468.29L482.51 468.46L482.76 467.96L483 466.59L482.51 464.85L482.97 464.71L482.82 461.68L483.05 461.03L483.08 460.12L483.37 458.54L483.24 459.89L483.36 456.82L483.34 456.79L484.36 457.81L484.52 459.75L484.7 460.99L484.93 460.54L484.65 462.43L484.99 463.8L485.09 464.54L485.04 465.67L485.38 465.97L486.4 464.95L486.72 464.8L486.77 463.39L486.51 461.41L486.68 460.29L486.96 459.47L487.11 459.93L487.41 456.42L487.28 457.02L487.28 456.43L487.42 454.76L488.67 454.55L489.46 455.77L490.22 455.84L490.78 457.41L491.5 458.83L491.84 461L492.01 460.93L492.06 462.31L492.11 461.89L492.09 465.21L492.43 463.87L492.52 465.97L492.56 463.92L492.55 463.6L492.78 461.56L493.02 463.09L493.13 460.59L493.21 459.2L493.31 457.98L493.54 457.81L493.75 457.96L493.97 456.84L494.3 455.14L494.56 453.74L494.72 452.41L495.13 451.95L494.88 450.14L495.17 449.84L495.33 447.98L495.58 447.62L497.1 446.6L497.33 449L497.93 449.66L498.12 449.66L498.7 449.67L498.83 452.32L499.14 452.72L499.33 451.78L499.61 451.05L499.52 448.41L499.77 447.34L499.99 446.33L500.05 447.04L500.3 446.18L500.67 444.56L501.39 444.74L502.2 443.03L503 442.8L503.73 440.48L504.71 440.77L505.77 441.5L506.41 443.04L506.49 444.58L507.05 444.97L507.3 445.58L507.17 447.69L507.37 446.27L507.66 447.78L507.76 449.62L508.07 451.18L508.44 452.24L508.59 452.52L508.31 454.32L508.97 453.83L508.83 455.77L509.1 454.44L509.53 452.43L509.43 452.32L509.56 452.38L509.85 450.68L509.72 449.03L510.47 448.53L510.07 447.95L510.62 447.8L510.93 446.84L510.87 444.56L510.95 445.07L511.44 446.17L511.47 446.33L511.59 447.61L511.92 450.22L512.04 450.08L512.2 451.44L512.73 453L512.91 453.74L513.07 452.82L513.17 452.54L513.33 449.28L513.45 449.6L513.56 449.37L513.32 446.35L513.17 447.37L513.19 444.32L513.68 444.86L513.74 442.33L513.98 443.22L513.49 441.7L513.75 439.74L513.92 439.46L515.45 439.46L515.74 441.84L515.61 442.36L516.37 441.37L516.57 442.18L516.44 443.23L516.57 444.66L516.98 446.6L517.27 445.4L517.77 445.28L517.49 442.34L517.87 443.4L518.44 442.45L518.51 440.48L520.04 441.5L515 441.33L516.55 446.66L518.18 442.46L519.16 445.92L521.06 442.43L522.24 444.96L523.71 444.23L525.18 446.59L526.26 445.46L528.2 449.64L529.99 448.67L530.97 452.13L532.58 450.42L533.51 455.14L534.98 451.85L536.94 453.51L538.94 451.15L540.8 457.04L542.82 454.95L543.84 459.84L545 455.42L546.43 458.81L547.69 453.27L549.05 459.5L550.65 452.78L552.64 455.11L554.65 453.25L556.74 455.03L557.84 455.17L559.89 458.19L561.48 457.4L562.63 457.94L564.22 454.62L565.19 455.51L567.28 451.36L569.14 451.22L570.22 448.15L572.05 451.03L573 449.53L573.95 452.61L575.25 450.39L577.33 452.6L579.43 447.19L580.42 450.37L581.36 447.24L582.75 451.3L583.83 449.42L585.77 453.44L587.82 450.59L589.18 454.98L590.7 451.33L592.32 454.06L593.96 455.58L595.47 460.84L597.23 458.59L598.49 461.33L600.02 460.36L600.93 462.09L602.53 458.33L604.17 461.16L605.14 458.13L606.6 460.78L607.92 458.18L609.71 461.66L610.68 459.2L612.74 461.54L614.19 462.09L615.47 467.13L616.74 463.15L618.36 464.75L619.71 461.04L620.64 462.54L622.43 462.1L623.59 464.01L624.78 463.43L626.2 466.09L627.22 464.35L628.53 467.32L629.95 465.27L631.05 466.99L632.73 464.78L634.18 466.5L635.22 463.41L636.35 465.49L638.26 463.09L639.49 466.79L641.16 459.85L642.48 457.49L643.73 455.22L644.95 455.44L646.35 452.43L647.74 455.65L648.83 453.46L650.86 454.48L652.95 448.02L654.99 448.77L656.15 447.73L658.06 448.49L659.58 445.2L660.89 446.07L661.87 443.19L663.11 443.58L664.07 442.64L665.8 443.29L667.78 442.91L669.37 443.62L671.16 441.58L672.42 443.47L673.95 441.7L675.29 442.31L677.33 447.79L679.37 446.43L681.92 446.9L684.46 450.33L686.5 454.99L688.54 458.25L690.58 460.66L692.62 462.7L695.17 464.31L696.19 468.17L698.23 468.71L700.77 470.87L702.81 474.23L704.85 477.22L706.89 481.4L708.42 478.58L709.95 478.22L712.5 484.02L715.05 479.44L716.57 480.48L718.1 480.07L719.63 474.98L721.16 473.89L723.2 468.29L724.73 465.19L726.26 463.26L728.3 459.92L730.34 450.67L732.38 443.55L733.9 444.48L736.45 445.66L738.49 447.87L740.53 454.1L742.57 460.9L744.61 466.44L746.65 467.98L748.69 473.4L750.72 474.64L751.74 476.07" stroke="#0000ff" stroke-width="3" fill="none" stroke-linejoin="round" stroke-linecap="butt"/></g><path d="M136.4 692.4v-7M136.4 385.6v7M260.72 692.4v-7M260.72 385.6v7M385.04 692.4v-7M385.04 385.6v7M509.36 692.4v-7M509.36 385.6v7M633.68 692.4v-7M633.68 385.6v7M758 692.4v-7M758 385.6v7M198.56 692.4v-3.5M198.56 385.6v3.5M322.88 692.4v-3.5M322.88 385.6v3.5M447.2 692.4v-3.5M447.2 385.6v3.5M571.52 692.4v-3.5M571.52 385.6v3.5M695.84 692.4v-3.5M695.84 385.6v3.5M136.4 602h7M758 602h-7M136.4 511.7h7M758 511.7h-7M136.4 421.4h7M758 421.4h-7" stroke="#222" stroke-width="1.5" fill="none"/><rect x="136.4" y="385.6" width="621.6" height="306.8" stroke="#222" stroke-width="1.6" fill="none"/><rect x="140" y="389.2" width="48.4" height="41.1" fill="#fff"/><path d="M1112.88 385.6V692.5M1251.06 385.6V692.5M1389.23 385.6V692.5M1527.41 385.6V692.5M1043.79 385.6V692.5M1181.97 385.6V692.5M1320.14 385.6V692.5M1458.32 385.6V692.5M974.7 602H1596.5M974.7 511.7H1596.5M974.7 421.4H1596.5" stroke="#dcdcdc" stroke-width="1.1" fill="none"/><g clip-path="url(#cd)"><path d="M974.7 462L985 457.6L997 453.3L1009 449.6L1020.4 446.6L1020.8 426L1021.5 462L1022.3 426L1023.3 445L1024.2 428L1025 468L1025.8 440L1026.2 451.04L1027.46 489.75L1028.62 458.11L1029.3 542.3L1029.91 450.88L1031.12 512.55L1032.3 549.5L1032.6 524.56L1033.61 448.59L1035.11 496.97L1035.87 461.54L1037.5 448L1037.52 456.6L1038.83 514.82L1039.1 564.8L1039.56 502.1L1040.34 445.39L1041.29 481.89L1042.46 444.63L1043.98 469.34L1045.32 441.96L1046.68 469.31L1047.6 436L1047.66 466.29L1049.34 446.07L1050.7 493.4L1050.74 440.48L1051.68 478.25L1052.47 444.82L1053.57 468.68L1054.66 447.14L1055 434L1056.19 438.2L1057.12 471.79L1058.29 449.99L1059.39 483.35L1060.71 449.22L1061.69 485.44L1062.73 452.55L1064 500.5L1064.18 442.61L1065.14 486.75L1065.91 449.97L1066.8 480.33L1067.95 442.07L1069.38 478.48L1070.71 439.75L1071.84 470.81L1072.82 445.31L1074.31 465.01L1075.88 437.25L1076.98 457.97L1078.31 435.84L1079.5 432L1079.98 436.29L1080.95 455.7L1081.99 436.44L1082.78 458.93L1084.06 436.76L1085.35 457.35L1086.51 442.38L1087.69 458.71L1089.24 439.17L1090.11 458.43L1091.62 440.98L1092.52 459.08L1095.5 448.02L1096.79 464.76L1097.62 447.42L1098.65 466.69L1100.09 452.93L1101.33 464.47L1102.63 447.72L1103.72 464.8L1105.25 444.18L1106.69 462.28L1108.01 441.69L1109.07 455.1L1109.78 439.42L1111.31 455.83L1112.09 444.46L1113.65 456.77L1114.73 442.21L1115.7 454.47L1116.54 445.24L1117.28 457.82L1118.72 446.73L1119.8 461.97L1120.58 468.01L1120.93 463.14L1121.64 445.2L1123.13 432.84L1123.22 439.43L1124.53 459.14L1125.55 445.66L1126.86 468.47L1127.77 454.3L1128.23 473.1L1128.93 455.95L1130.08 464.3L1131.52 445.34L1132.69 459.38L1133.77 449.28L1135.17 467.25L1135.87 471.07L1136.37 468.52L1137.7 450.96L1138.64 465.5L1139.92 448.37L1141.03 463.77L1141.98 448.84L1143.55 463.59L1145.12 446.73L1146.66 461.5L1147.53 448.72L1149.06 457.66L1149.99 448.16L1151 455.54L1151.7 446.6L1152.96 452.73L1154.56 444.22L1155.28 449.59L1156.69 439.41L1157.28 434.37L1157.97 436.8L1159.14 446.45L1160.41 438.72L1161.97 448.24L1162.81 441.43L1164.3 455.07L1165.86 445.95L1167.19 454.74L1168.08 446.53L1169 453.53L1170.33 447.71L1171.84 463.34L1172.75 450.97L1173.08 472.08L1174.34 446.35L1175.61 453.86L1175.63 436.41L1177.18 455.7L1178.26 449.18L1179.77 457.4L1181 451.36L1182.03 455.83L1183.24 446.86L1184.58 453.06L1186 445.83L1187.53 450.04L1188.95 441.5L1189.73 448.51L1190.7 440.82L1192.03 447.61L1193.29 435.05L1193.98 432.33L1194.47 436.85L1195.52 448.28L1196.59 437.67L1197.91 448.35L1198.68 439.86L1200.01 446.91L1201.31 443.44L1202.34 450.98L1203.47 443.86L1204.33 451.75L1205.33 444.59L1206.32 452.23L1207.02 446.45L1207.97 454.08L1209.06 448.06L1210.59 454.33L1211.92 449.8L1213.04 458.45L1214.51 452.59L1215.62 460.96L1217.08 456.92L1218.26 463.94L1219.31 461.19L1222.1 472L1223.5 486L1225.2 480L1227 490L1228.5 476L1231.3 484L1232.5 495L1234.4 500.6L1235.4 535.3L1237 512L1238 528L1239.5 535.3L1241 515L1242.6 505.7L1244 540L1245.6 557.8L1247.5 530L1249.7 523.1L1251 550L1252.8 563.9L1254.2 540L1255.8 529.2L1257 552L1258.9 557.8L1260.2 548L1261.5 556L1263 552L1264 560L1265.5 566L1267 570L1268.5 560L1270.1 584.3L1271.5 566L1273.2 557.8L1274.5 572L1276.2 594.5L1277.8 570L1279.3 562L1280.5 575L1282.3 531.2L1283.2 572L1284.4 582L1285.5 566L1286.8 576L1288.5 565.9L1290 585L1291.5 570L1293.6 598L1294.5 565.22L1296.34 587.14L1298.38 566.84L1299.64 595.11L1300.89 572.13L1302.01 593.09L1302.5 610L1303.25 595.13L1304.76 573.99L1306.5 597.89L1307.81 569.73L1309.89 592.72L1311.6 538L1311.88 592.55L1313.79 575.7L1315.77 596.74L1317.82 571.5L1318.5 630L1319.74 571.77L1319.8 626L1321.25 570.36L1322.76 595.77L1323.87 574.19L1325.85 590.37L1327.7 572.76L1328.1 482.4L1329.5 500L1329.62 595.85L1331.44 572.59L1332.63 595.34L1333 630L1334.26 595.02L1335.5 628L1335.81 592.73L1337.27 571.6L1338.5 630L1338.86 572.58L1340.12 595.44L1341.55 570.24L1343.35 589.34L1344.8 571.75L1346.96 595L1347 630L1348.1 589.47L1349.5 628L1350.13 590.39L1351.3 570.9L1353.37 588.44L1355.36 569.99L1355.5 630L1357.41 568.05L1359.29 591.8L1361.49 564.94L1363.38 589.62L1365.13 562.08L1366 630L1366.84 559.28L1368.73 586.3L1370.07 555.81L1371.91 587.09L1372 630L1373.16 587.04L1374.5 628L1374.94 582.16L1375.3 466.3L1376.5 556L1376.6 551.45L1378.12 582.96L1379.2 550.26L1381.43 583.81L1382.78 520.93L1384.5 577.21L1386.07 495.53L1386.9 477L1388.09 487.78L1389.48 568.99L1391.68 500.64L1393.25 566.1L1393.3 487.7L1394.59 576.04L1396.19 521.63L1398.1 559.01L1399.5 568L1399.93 545.32L1401.22 489.84L1402.64 556.64L1403.97 480.02L1405.38 559.43L1405.5 566L1406.5 471.7L1406.84 475.83L1408.77 544.4L1409.74 488.76L1410 560L1410.94 482.2L1411.9 478.8L1412.61 478.61L1413.94 537.5L1415.08 487.11L1415.4 487.7L1416.3 486.5L1417.2 470L1418.2 461.6L1419 452L1420.1 444.4L1421 440L1422 436.8L1424 434L1425.8 432.9L1427.5 431L1428.7 428.2L1429.5 424L1430.2 420.5L1431 428L1431.5 438.7L1432.5 444L1434.4 452.1L1436 458L1437.3 465.4L1439 472L1440.2 480.7L1441.5 486L1443 492.2L1444.2 500L1444.9 505.6L1446 499L1447.8 498L1449 505L1450.7 511.3L1451 508.79L1452.28 524.31L1453.77 515.38L1454.65 524.78L1455.89 514.68L1457.15 527.67L1458.5 516.32L1459.35 533.23L1460.33 522.4L1461.7 543.26L1462.49 524.49L1463.73 535.91L1464.97 520.41L1465.92 536.96L1466.76 525.43L1467.78 530L1468.82 515.71L1470.25 530.89L1471.01 521.89L1472.23 539.58L1472.97 529.12L1474.08 544.45L1475.14 530.68L1476.5 542.43L1477.25 527.12L1477.99 531.21L1478.68 518.08L1479.44 521L1480.18 510.33L1481.3 508.71L1482.7 502.43L1484.1 500.51L1486 505.11L1488 514.46L1489.9 494.74L1491 490.99L1492.3 485.87L1493.7 485.53L1495.7 476.4L1497.5 472.42L1499.2 467.78L1500.9 465.29L1502.6 460.73L1504.35 457.83L1506.1 454.89L1508.4 447.33L1510.6 442.17L1512.35 439.42L1514.1 435.38L1515.55 440.05L1517 441.83L1518.7 436.5L1520.23 437.85L1521.77 438.53L1523.3 438.41L1525 443.12L1526.7 446.04L1528.4 450.58L1530.1 455.52L1531.85 458.78L1533.6 462.15L1535.9 471.45L1538.2 477.49L1540.5 483.07L1542.2 485.71L1543.9 484.75L1545.65 486.16L1547.4 487.35L1548.9 488.21L1550.4 486.43L1551.9 485.37L1553.43 485.21L1554.97 486.72L1556.5 488.71L1558.25 482.61L1560 478.6L1562.3 469.32L1564.6 461.22L1566.3 456.44L1568 449.94L1569.53 448.01L1571.07 446.74L1572.6 444.37L1574.3 448.12L1576 448.32L1578.3 453.71L1580.6 464.21L1582.35 468.44L1584.1 470.03L1585.8 473.25L1587.5 473.47L1589.8 484.05L1592.1 489.99L1593.55 494.76L1595 497.07L1597.5 499" stroke="#0000ff" stroke-width="3" fill="none" stroke-linejoin="round" stroke-linecap="butt"/></g><path d="M974.7 692.5v-7M974.7 385.6v7M1112.88 692.5v-7M1112.88 385.6v7M1251.06 692.5v-7M1251.06 385.6v7M1389.23 692.5v-7M1389.23 385.6v7M1527.41 692.5v-7M1527.41 385.6v7M1043.79 692.5v-3.5M1043.79 385.6v3.5M1181.97 692.5v-3.5M1181.97 385.6v3.5M1320.14 692.5v-3.5M1320.14 385.6v3.5M1458.32 692.5v-3.5M1458.32 385.6v3.5M974.7 602h7M1596.5 602h-7M974.7 511.7h7M1596.5 511.7h-7M974.7 421.4h7M1596.5 421.4h-7" stroke="#222" stroke-width="1.5" fill="none"/><rect x="974.7" y="385.6" width="621.8" height="306.9" stroke="#222" stroke-width="1.6" fill="none"/><rect x="978.3" y="389.2" width="50.1" height="41.3" fill="#fff"/><rect x="439.7" y="224.2" width="306.3" height="85.3" fill="#fff" stroke="#111" stroke-width="1.7"/><path d="M456.8 252.4H490.4" stroke="#0000ff" stroke-width="4.8"/><text transform="translate(508.09 262) scale(1.01 1.04)" font-family="Liberation Serif, Times New Roman, serif" font-size="32" stroke="#000" stroke-width="0.29">simulated results</text><circle cx="473.2" cy="286.1" r="7.2" fill="url(#ball)"/><text transform="translate(507.38 296.4) scale(1.01 1.04)" font-family="Liberation Serif, Times New Roman, serif" font-size="32" stroke="#000" stroke-width="0.29">measured results</text><rect x="1283.8" y="224.4" width="305.8" height="84.4" fill="#fff" stroke="#111" stroke-width="1.7"/><path d="M1300.8 252.5H1334.4" stroke="#0000ff" stroke-width="4.8"/><text transform="translate(1351.88 262) scale(1.01 1.04)" font-family="Liberation Serif, Times New Roman, serif" font-size="32" stroke="#000" stroke-width="0.29">simulated results</text><circle cx="1317" cy="286.1" r="7.2" fill="url(#ball)"/><text transform="translate(1351.38 296.4) scale(1.01 1.04)" font-family="Liberation Serif, Times New Roman, serif" font-size="32" stroke="#000" stroke-width="0.29">measured results</text><rect x="439.7" y="624.1" width="306.3" height="52.9" fill="#fff" stroke="#111" stroke-width="1.7"/><path d="M456.8 651.2H490.4" stroke="#0000ff" stroke-width="4.8"/><text transform="translate(508.19 662.5) scale(1.01 1.04)" font-family="Liberation Serif, Times New Roman, serif" font-size="32" stroke="#000" stroke-width="0.29">simulated results</text><rect x="1281.7" y="624.4" width="305.5" height="52.1" fill="#fff" stroke="#111" stroke-width="1.7"/><path d="M1298.7 651H1332.7" stroke="#0000ff" stroke-width="4.8"/><text transform="translate(1350.08 662.5) scale(1.01 1.04)" font-family="Liberation Serif, Times New Roman, serif" font-size="32" stroke="#000" stroke-width="0.29">simulated results</text><g fill="#000"><text transform="translate(147.76 48.68) scale(1.14 1.14)" font-family="Liberation Serif, Times New Roman, serif" font-size="32" stroke="#000" stroke-width="0.26">(a)</text><text transform="translate(987.06 48.68) scale(1.14 1.14)" font-family="Liberation Serif, Times New Roman, serif" font-size="32" stroke="#000" stroke-width="0.26">(b)</text><text transform="translate(147.76 421.68) scale(1.14 1.14)" font-family="Liberation Serif, Times New Roman, serif" font-size="32" stroke="#000" stroke-width="0.26">(c)</text><text transform="translate(987.26 422.48) scale(1.14 1.14)" font-family="Liberation Serif, Times New Roman, serif" font-size="32" stroke="#000" stroke-width="0.26">(d)</text><text transform="translate(116.43 359) scale(1.01 1.02)" font-family="Liberation Sans, Arial, Helvetica, sans-serif" font-size="30" stroke="#000" stroke-width="0.44">25</text><text transform="translate(116.13 736.55) scale(1.01 1.02)" font-family="Liberation Sans, Arial, Helvetica, sans-serif" font-size="30" stroke="#000" stroke-width="0.44">25</text><text transform="translate(241.56 359) scale(1.01 1.02)" font-family="Liberation Sans, Arial, Helvetica, sans-serif" font-size="30" stroke="#000" stroke-width="0.44">50</text><text transform="translate(241.28 736.55) scale(1.01 1.02)" font-family="Liberation Sans, Arial, Helvetica, sans-serif" font-size="30" stroke="#000" stroke-width="0.44">50</text><text transform="translate(366.68 359) scale(1.01 1.02)" font-family="Liberation Sans, Arial, Helvetica, sans-serif" font-size="30" stroke="#000" stroke-width="0.44">75</text><text transform="translate(366.43 736.55) scale(1.01 1.02)" font-family="Liberation Sans, Arial, Helvetica, sans-serif" font-size="30" stroke="#000" stroke-width="0.44">75</text><text transform="translate(483.22 359) scale(1.01 1.02)" font-family="Liberation Sans, Arial, Helvetica, sans-serif" font-size="30" stroke="#000" stroke-width="0.44">100</text><text transform="translate(483 736.55) scale(1.01 1.02)" font-family="Liberation Sans, Arial, Helvetica, sans-serif" font-size="30" stroke="#000" stroke-width="0.44">100</text><text transform="translate(608.35 359) scale(1.01 1.02)" font-family="Liberation Sans, Arial, Helvetica, sans-serif" font-size="30" stroke="#000" stroke-width="0.44">125</text><text transform="translate(608.15 736.55) scale(1.01 1.02)" font-family="Liberation Sans, Arial, Helvetica, sans-serif" font-size="30" stroke="#000" stroke-width="0.44">125</text><text transform="translate(733.47 359) scale(1.01 1.02)" font-family="Liberation Sans, Arial, Helvetica, sans-serif" font-size="30" stroke="#000" stroke-width="0.44">150</text><text transform="translate(733.29 736.55) scale(1.01 1.02)" font-family="Liberation Sans, Arial, Helvetica, sans-serif" font-size="30" stroke="#000" stroke-width="0.44">150</text><text transform="translate(957.34 364.15) scale(1.01 1.02)" font-family="Liberation Sans, Arial, Helvetica, sans-serif" font-size="30" stroke="#000" stroke-width="0.44">30</text><text transform="translate(957.54 737.9) scale(1.01 1.02)" font-family="Liberation Sans, Arial, Helvetica, sans-serif" font-size="30" stroke="#000" stroke-width="0.44">30</text><text transform="translate(1095.52 364.15) scale(1.01 1.02)" font-family="Liberation Sans, Arial, Helvetica, sans-serif" font-size="30" stroke="#000" stroke-width="0.44">60</text><text transform="translate(1095.66 737.9) scale(1.01 1.02)" font-family="Liberation Sans, Arial, Helvetica, sans-serif" font-size="30" stroke="#000" stroke-width="0.44">60</text><text transform="translate(1234.21 364.15) scale(1.01 1.02)" font-family="Liberation Sans, Arial, Helvetica, sans-serif" font-size="30" stroke="#000" stroke-width="0.44">90</text><text transform="translate(1234.29 737.9) scale(1.01 1.02)" font-family="Liberation Sans, Arial, Helvetica, sans-serif" font-size="30" stroke="#000" stroke-width="0.44">90</text><text transform="translate(1364.31 364.15) scale(1.01 1.02)" font-family="Liberation Sans, Arial, Helvetica, sans-serif" font-size="30" stroke="#000" stroke-width="0.44">120</text><text transform="translate(1364.34 737.9) scale(1.01 1.02)" font-family="Liberation Sans, Arial, Helvetica, sans-serif" font-size="30" stroke="#000" stroke-width="0.44">120</text><text transform="translate(1503 364.15) scale(1.01 1.02)" font-family="Liberation Sans, Arial, Helvetica, sans-serif" font-size="30" stroke="#000" stroke-width="0.44">150</text><text transform="translate(1502.97 737.9) scale(1.01 1.02)" font-family="Liberation Sans, Arial, Helvetica, sans-serif" font-size="30" stroke="#000" stroke-width="0.44">150</text><text transform="translate(51.75 21.3) scale(1.01 1.02)" font-family="Liberation Sans, Arial, Helvetica, sans-serif" font-size="30" stroke="#000" stroke-width="0.44">8000</text><text transform="translate(890.65 21.3) scale(1.01 1.02)" font-family="Liberation Sans, Arial, Helvetica, sans-serif" font-size="30" stroke="#000" stroke-width="0.44">8000</text><text transform="translate(51.75 68.4) scale(1.01 1.02)" font-family="Liberation Sans, Arial, Helvetica, sans-serif" font-size="30" stroke="#000" stroke-width="0.44">6000</text><text transform="translate(890.65 68.4) scale(1.01 1.02)" font-family="Liberation Sans, Arial, Helvetica, sans-serif" font-size="30" stroke="#000" stroke-width="0.44">6000</text><text transform="translate(51.75 130.5) scale(1.01 1.02)" font-family="Liberation Sans, Arial, Helvetica, sans-serif" font-size="30" stroke="#000" stroke-width="0.44">4000</text><text transform="translate(890.65 130.5) scale(1.01 1.02)" font-family="Liberation Sans, Arial, Helvetica, sans-serif" font-size="30" stroke="#000" stroke-width="0.44">4000</text><text transform="translate(51.75 237.9) scale(1.01 1.02)" font-family="Liberation Sans, Arial, Helvetica, sans-serif" font-size="30" stroke="#000" stroke-width="0.44">2000</text><text transform="translate(890.65 237.9) scale(1.01 1.02)" font-family="Liberation Sans, Arial, Helvetica, sans-serif" font-size="30" stroke="#000" stroke-width="0.44">2000</text><text transform="translate(62.21 436.1) scale(1.01 1.02)" font-family="Liberation Sans, Arial, Helvetica, sans-serif" font-size="30" stroke="#000" stroke-width="0.44">100</text><text transform="translate(900.01 436.1) scale(1.01 1.02)" font-family="Liberation Sans, Arial, Helvetica, sans-serif" font-size="30" stroke="#000" stroke-width="0.44">100</text><text transform="translate(78.68 524.6) scale(1.01 1.02)" font-family="Liberation Sans, Arial, Helvetica, sans-serif" font-size="30" stroke="#000" stroke-width="0.44">10</text><text transform="translate(916.48 524.6) scale(1.01 1.02)" font-family="Liberation Sans, Arial, Helvetica, sans-serif" font-size="30" stroke="#000" stroke-width="0.44">10</text><text transform="translate(93.15 613.1) scale(1.01 1.02)" font-family="Liberation Sans, Arial, Helvetica, sans-serif" font-size="30" stroke="#000" stroke-width="0.44">1</text><text transform="translate(930.95 613.1) scale(1.01 1.02)" font-family="Liberation Sans, Arial, Helvetica, sans-serif" font-size="30" stroke="#000" stroke-width="0.44">1</text><text transform="translate(67.9 701.7) scale(1.01 1.02)" font-family="Liberation Sans, Arial, Helvetica, sans-serif" font-size="30" stroke="#000" stroke-width="0.44">0.1</text><text transform="translate(905.7 701.7) scale(1.01 1.02)" font-family="Liberation Sans, Arial, Helvetica, sans-serif" font-size="30" stroke="#000" stroke-width="0.44">0.1</text><text transform="translate(322.49 777.5) scale(1.01 1)" font-family="Liberation Serif, Times New Roman, serif" font-size="35" stroke="#000" stroke-width="0.3">Time [μs]</text><text transform="translate(1165.24 776.9) scale(1.01 1)" font-family="Liberation Serif, Times New Roman, serif" font-size="35" stroke="#000" stroke-width="0.3">Time [μs]</text><text transform="translate(43.7 606.5) rotate(-90) scale(1.03 1)" font-family="Liberation Serif, Times New Roman, serif" font-size="35" font-style="italic" stroke="#000" stroke-width="0.3">E/N</text><text transform="translate(45.2 533.3) rotate(-90) scale(1 1.04)" font-family="Liberation Serif, Times New Roman, serif" font-size="35" stroke="#000" stroke-width="0.29">[Td]</text><text transform="translate(882.3 606.5) rotate(-90) scale(1.03 1)" font-family="Liberation Serif, Times New Roman, serif" font-size="35" font-style="italic" stroke="#000" stroke-width="0.3">E/N</text><text transform="translate(883.8 533.3) rotate(-90) scale(1 1.04)" font-family="Liberation Serif, Times New Roman, serif" font-size="35" stroke="#000" stroke-width="0.29">[Td]</text><text transform="translate(23.9 216.94) rotate(-90) scale(1.08 1)" font-family="Liberation Serif, Times New Roman, serif" font-size="35" font-style="italic" stroke="#000" stroke-width="0.29">T</text><text transform="translate(35.1 196.5) rotate(-90) scale(1.1 1)" font-family="Liberation Serif, Times New Roman, serif" font-size="29" font-style="italic" stroke="#000" stroke-width="0.29">g</text><text transform="translate(25.4 164.86) rotate(-90) scale(1.01 1.04)" font-family="Liberation Serif, Times New Roman, serif" font-size="35" stroke="#000" stroke-width="0.29">[K]</text><text transform="translate(862.9 216.94) rotate(-90) scale(1.08 1)" font-family="Liberation Serif, Times New Roman, serif" font-size="35" font-style="italic" stroke="#000" stroke-width="0.29">T</text><text transform="translate(874.1 196.5) rotate(-90) scale(1.1 1)" font-family="Liberation Serif, Times New Roman, serif" font-size="29" font-style="italic" stroke="#000" stroke-width="0.29">g</text><text transform="translate(864.4 164.86) rotate(-90) scale(1.01 1.04)" font-family="Liberation Serif, Times New Roman, serif" font-size="35" stroke="#000" stroke-width="0.29">[K]</text></g></svg></body></html>
